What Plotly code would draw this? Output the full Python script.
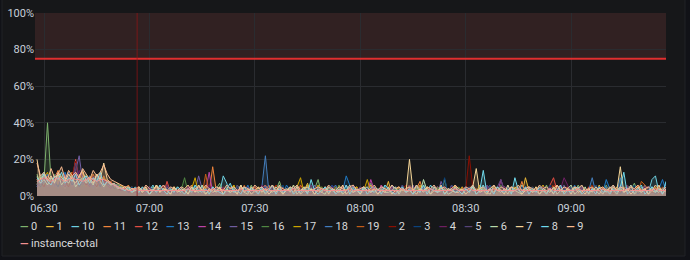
import plotly.graph_objects as go
import pandas as pd

# ---------------- data ----------------
START = "2020-01-01 06:28"
N_POINTS = 180
times = pd.date_range(START, periods=N_POINTS, freq="1min")

series_names = ["0", "1", "10", "11", "12", "13", "14", "15", "16", "17",
                "18", "19", "2", "3", "4", "5", "6", "7", "8", "9",
                "instance-total"]

series_colors = ["#7EB26D", "#EAB839", "#6ED0E0", "#EF843C", "#E24D42", "#1F78C1",
                 "#BA43A9", "#705DA0", "#508642", "#CCA300", "#447EBC", "#C15C17",
                 "#890F02", "#0A437C", "#6D1F62", "#584477", "#B7DBAB", "#F4D598",
                 "#70DBED", "#F9BA8F", "#F29191"]

s_0 = [12,6,9,40,8,5,11,7,4,9,13,6,8,5,10,7,12,4,6,9,
       7,5,6,4,5,3,4,2,3,2,4,1,3,5,2,6,3,1,4,2,
       5,3,2,4,1,6,3,2,5,3,1,4,7,2,3,1,5,2,4,3,
       2,6,1,3,4,2,5,1,3,8,2,4,1,3,5,2,3,6,1,4,
       9,1,5,2,4,3,1,6,2,3,5,1,4,2,3,7,1,3,5,2,
       4,2,1,5,3,2,6,1,4,3,2,5,1,3,4,2,9,1,3,5,
       2,4,3,1,5,2,3,6,1,4,2,3,5,1,2,4,3,1,6,2,
       5,1,3,4,2,6,1,3,2,5,4,1,3,2,6,3,1,4,2,5,
       3,2,6,1,4,3,2,5,1,3,7,2,4,1,3,5,2,3,1,4]
s_1 = [8,11,5,9,7,12,6,10,4,8,13,7,5,9,6,11,8,5,10,7,
       6,7,4,5,3,4,2,5,2,4,3,1,5,2,4,3,6,1,3,2,
       4,1,3,5,2,6,1,3,4,2,5,3,1,4,2,3,6,1,5,2,
       3,2,4,1,5,3,2,6,1,4,2,3,1,5,2,4,3,7,1,3,
       2,5,1,3,4,2,6,1,3,2,4,5,1,3,2,6,1,4,3,2,
       8,1,3,2,4,6,1,3,5,2,1,4,3,2,5,1,3,4,2,6,
       1,3,4,2,5,1,3,2,6,1,4,3,2,5,1,3,2,4,1,10,
       3,2,5,1,4,3,2,6,1,3,4,2,1,5,3,2,4,1,3,2,
       6,1,3,4,2,5,1,3,2,4,1,6,3,2,5,1,4,2,3,1]
s_10 = [6,10,13,7,9,5,11,8,6,12,7,4,9,11,5,8,10,6,9,4,
        8,6,5,7,4,3,5,3,5,2,4,1,3,6,2,4,1,5,3,2,
        1,4,3,2,6,1,3,5,2,4,1,3,2,11,7,1,3,2,4,1,
        5,2,3,1,4,6,2,3,1,5,2,4,3,1,6,2,3,5,1,4,
        2,3,1,5,2,4,3,1,6,2,5,1,3,4,2,1,5,3,2,4,
        1,6,3,2,4,1,5,2,3,1,4,2,6,3,1,5,2,4,3,1,
        3,2,5,1,4,2,3,6,1,2,4,3,1,5,2,3,4,1,6,2,
        4,1,3,2,5,3,1,4,2,6,1,3,5,2,4,1,3,2,5,3,
        2,4,1,3,6,2,5,1,4,3,2,1,5,3,2,9,11,2,3,5]
s_11 = [9,5,12,8,6,10,14,7,9,5,11,8,6,13,7,9,5,10,8,6,
        9,7,5,6,3,4,6,2,3,5,2,4,1,3,6,2,4,1,3,5,
        2,1,4,3,6,2,3,1,5,2,16,3,1,4,2,5,3,1,2,4,
        3,5,1,2,4,3,6,1,3,2,5,1,4,2,3,1,5,2,4,3,
        1,4,2,5,3,1,3,6,2,4,1,3,2,5,1,4,3,2,6,1,
        3,2,4,1,5,2,3,1,4,8,2,3,1,5,2,4,3,1,2,5,
        4,1,3,2,6,1,4,3,2,5,1,3,4,2,1,5,3,2,8,1,
        2,5,3,1,4,2,3,6,1,3,2,4,1,5,3,2,1,4,3,6,
        1,3,2,5,1,4,2,3,6,1,3,5,2,1,4,3,2,5,1,3]
s_12 = [7,9,5,11,8,6,10,7,12,5,9,20,8,6,11,7,9,5,12,8,
        6,8,5,4,3,5,2,4,2,4,1,3,5,2,4,3,1,8,2,3,
        4,2,1,5,3,2,4,1,3,6,2,4,1,3,5,2,1,4,3,2,
        5,1,3,2,4,6,1,3,2,5,1,4,3,2,1,6,3,2,4,1,
        3,2,5,1,4,2,3,1,6,2,4,3,1,5,2,3,4,1,2,5,
        1,4,2,3,5,1,2,4,3,1,6,2,3,5,1,4,2,3,1,4,
        2,3,1,5,2,4,1,3,6,2,1,4,3,5,2,1,3,4,2,3,
        5,2,4,1,3,2,6,10,3,4,2,5,1,3,2,4,1,5,3,2,
        1,3,5,2,4,1,3,2,5,1,4,2,3,6,1,2,4,3,1,5]
s_13 = [5,8,12,6,9,7,4,10,13,6,8,5,11,7,9,6,4,12,8,5,
        7,6,4,5,3,5,2,3,4,1,3,5,2,4,1,3,6,2,4,1,
        3,5,2,1,4,3,2,6,1,3,5,2,4,1,3,2,5,1,4,2,
        6,1,3,4,2,5,1,3,2,4,1,6,3,2,5,1,4,2,3,1,
        4,2,3,1,5,2,4,3,11,6,2,3,5,1,4,2,1,3,5,2,
        3,1,4,2,6,1,3,5,2,4,1,3,2,5,1,4,3,2,6,1,
        2,5,1,3,4,2,1,5,3,2,4,1,3,2,6,1,4,3,2,5,
        1,3,4,2,5,1,3,2,4,1,5,3,2,6,1,3,4,2,1,3,
        5,2,9,4,3,2,10,1,3,5,2,4,1,3,2,5,1,4,9,3]
s_14 = [9,6,11,5,8,12,7,10,6,9,5,13,8,6,10,7,5,11,9,6,
        6,5,7,4,3,5,2,4,2,3,1,5,2,4,3,1,6,2,3,4,
        2,4,1,3,5,2,6,1,3,13,2,1,5,3,2,4,1,3,2,5,
        1,3,5,2,4,1,3,2,6,1,4,3,2,5,1,3,4,2,1,5,
        3,2,4,1,6,2,3,5,1,4,2,3,1,5,2,9,3,1,6,2,
        4,1,3,5,2,1,4,3,2,6,1,3,2,4,5,1,3,2,4,1,
        2,5,3,1,4,2,3,1,5,2,4,1,9,3,2,5,1,4,3,2,
        3,1,4,2,5,3,1,2,4,6,1,3,5,2,1,4,3,2,5,1,
        4,2,3,1,5,2,4,3,1,6,2,3,1,4,5,2,3,1,4,2]
s_15 = [6,10,7,9,5,12,8,6,11,7,9,14,22,8,6,10,5,9,7,11,
        5,7,4,6,3,4,2,5,3,1,4,2,5,3,1,4,2,6,3,1,
        4,2,3,5,1,3,11,4,1,6,2,3,5,1,4,2,3,1,5,2,
        3,1,4,2,5,3,1,2,6,1,3,4,2,5,1,3,2,4,1,6,
        2,4,1,3,5,2,4,1,3,2,6,1,4,3,2,5,1,3,4,2,
        1,5,3,2,4,1,3,6,2,4,1,3,2,5,1,8,3,2,4,1,
        3,2,5,1,4,2,3,1,6,2,4,3,1,5,2,3,4,1,2,5,
        2,4,1,3,6,2,1,4,3,5,1,2,4,3,1,6,2,3,5,1,
        4,1,3,5,2,4,1,3,2,6,1,4,3,2,5,1,3,2,4,6]
s_16 = [8,11,6,9,7,12,5,10,8,6,11,7,9,5,12,8,6,10,7,9,
        5,6,4,7,3,4,5,2,2,4,1,3,5,2,4,1,3,6,2,4,
        1,3,10,2,4,1,6,3,2,4,1,5,2,3,1,4,2,6,3,1,
        4,2,3,1,5,2,4,3,1,6,2,3,5,1,4,2,3,1,5,2,
        3,5,1,4,2,3,6,1,3,2,4,1,5,3,2,4,1,3,2,6,
        2,1,4,3,5,2,1,3,4,2,6,1,3,2,5,1,4,3,2,1,
        5,3,2,4,1,3,5,2,1,4,3,2,6,1,3,2,4,5,1,3,
        1,4,3,2,5,1,3,4,2,1,5,3,2,4,1,6,3,2,1,4,
        3,2,5,1,4,3,2,1,6,3,2,4,1,5,2,3,1,4,3,2]
s_17 = [7,5,10,13,6,9,8,11,5,7,10,6,12,8,5,9,11,7,6,10,
        8,6,5,4,6,3,4,2,3,2,5,1,4,3,2,6,1,3,4,2,
        5,1,3,2,4,10,1,3,5,2,1,4,3,2,5,1,6,2,3,4,
        1,3,2,5,1,4,3,2,6,1,3,4,2,1,5,10,2,4,1,3,
        6,2,4,1,3,5,2,1,4,3,2,5,1,3,9,2,4,1,3,2,
        4,1,3,5,2,3,1,4,2,6,1,3,4,2,1,5,3,2,4,1,
        2,5,1,3,4,2,6,1,3,2,5,1,4,3,2,1,5,3,2,4,
        3,1,4,2,6,1,3,5,2,4,1,3,2,5,1,4,2,3,6,1,
        2,4,3,1,5,2,3,4,1,3,2,6,1,4,3,2,5,1,3,2]
s_18 = [5,9,7,12,6,8,11,5,9,13,7,6,10,8,5,11,7,9,6,8,
        7,5,6,4,5,3,2,4,2,4,3,1,5,2,6,3,1,4,2,3,
        3,1,4,2,5,3,1,6,2,4,1,3,5,2,3,1,4,2,6,1,
        2,4,3,1,5,22,2,3,1,6,2,4,3,1,5,2,3,4,1,2,
        5,1,3,2,4,6,1,3,2,5,1,4,3,2,1,5,3,2,4,1,
        3,2,5,1,4,2,3,1,6,2,4,3,1,5,2,3,1,4,2,5,
        1,4,2,3,5,1,3,2,4,6,1,3,2,5,1,4,3,2,1,5,
        4,2,1,5,3,2,4,1,3,2,6,1,4,3,2,5,1,3,10,2,
        2,3,5,1,4,2,3,1,5,3,2,4,1,6,3,2,4,1,3,7]
s_19 = [9,7,12,6,10,8,5,11,7,9,13,6,8,10,5,9,12,7,6,11,
        6,8,4,5,3,5,2,4,3,5,2,4,1,3,6,2,4,3,1,5,
        2,4,1,3,5,2,3,1,12,2,4,3,1,5,2,4,1,3,2,6,
        1,3,5,2,4,1,3,2,5,3,1,4,2,6,1,3,5,2,4,1,
        3,2,4,1,5,3,2,6,1,4,2,3,1,5,2,4,3,1,2,4,
        5,1,3,2,4,1,6,3,2,5,1,4,2,3,1,5,2,4,3,1,
        2,4,3,1,5,2,3,4,1,6,2,3,5,1,4,2,1,3,5,2,
        4,1,3,5,2,1,4,3,2,6,1,3,2,4,5,1,3,2,4,1,
        3,5,2,1,4,3,2,5,1,3,4,2,8,6,3,2,4,1,5,2]
s_2 = [6,8,5,10,7,9,12,6,8,5,11,19,7,9,6,10,8,5,9,7,
       7,5,6,4,3,5,2,3,2,3,1,5,2,4,3,1,6,2,3,1,
       4,2,3,1,5,2,4,3,1,6,2,3,5,1,4,2,3,1,5,2,
       1,3,4,2,5,1,3,2,6,1,4,3,2,5,1,3,4,2,1,5,
       3,2,5,1,4,2,3,6,1,3,2,4,1,5,3,2,4,1,3,2,
       5,1,3,2,4,6,1,3,2,4,1,5,3,2,1,4,3,2,5,1,
       2,4,3,22,5,1,3,2,4,1,6,3,2,5,1,4,2,3,1,5,
       3,1,4,2,5,3,1,6,2,3,4,1,5,2,3,1,4,2,6,1,
       4,2,3,5,1,4,2,3,1,5,2,6,3,1,4,2,3,5,1,3]
s_3 = [7,5,9,6,11,8,5,10,7,12,6,9,5,8,11,6,7,10,5,9,
       6,7,4,5,3,4,2,5,3,1,4,2,5,3,1,6,2,4,3,1,
       5,2,3,1,4,6,2,3,1,5,2,4,3,1,6,2,3,5,1,4,
       2,4,1,3,5,2,3,1,4,2,6,1,3,5,2,4,1,3,2,5,
       1,3,4,2,6,1,3,2,5,1,4,3,2,1,5,3,2,4,1,6,
       3,2,5,1,4,2,3,1,6,3,2,4,1,5,2,3,10,1,2,3,
       4,1,3,5,2,1,4,3,2,6,1,3,5,2,4,1,3,2,5,1,
       2,5,3,1,4,2,6,1,3,2,4,1,5,3,2,4,1,3,2,6,
       3,1,4,2,5,3,1,4,2,3,6,1,3,2,4,5,1,3,2,4]
s_4 = [5,7,10,8,6,9,13,7,5,8,10,6,14,9,7,5,11,8,6,9,
       6,4,7,5,3,4,2,3,2,4,3,1,5,2,4,3,1,6,2,3,
       1,4,2,5,3,1,4,2,3,6,1,3,2,5,1,4,3,2,1,5,
       3,2,4,1,6,3,2,5,1,4,2,3,1,5,2,4,3,1,6,2,
       4,1,3,2,5,1,4,3,2,6,1,3,5,2,4,1,3,2,4,1,
       2,5,1,3,4,2,6,1,3,2,5,1,4,3,2,1,5,3,2,4,
       3,1,4,2,5,3,1,2,6,1,3,4,2,5,1,3,2,4,1,3,
       5,2,3,1,4,2,5,3,1,4,10,6,1,3,2,5,1,4,3,2,
       1,4,2,3,5,1,3,2,6,1,4,3,2,5,1,3,4,2,1,5]
s_5 = [8,6,9,7,11,5,10,8,6,12,7,18,9,6,10,7,5,11,8,6,
       8,5,6,4,5,3,4,2,3,1,5,2,4,3,1,6,2,3,5,1,
       2,4,3,1,5,2,6,1,3,4,2,5,1,3,2,4,1,6,3,2,
       5,1,3,2,4,1,5,3,2,6,1,4,3,2,5,1,3,2,4,1,
       3,2,4,5,1,3,2,6,1,4,3,2,1,5,3,2,4,1,3,2,
       1,4,2,3,6,1,3,5,2,4,1,3,2,5,1,4,3,2,6,1,
       4,2,5,1,3,2,4,1,6,3,2,5,9,3,4,2,1,5,3,2,
       2,3,1,4,5,2,3,1,4,2,6,1,3,5,2,4,1,3,2,4,
       5,1,3,2,4,1,6,3,2,5,1,4,2,3,1,5,3,2,4,1]
s_6 = [11,7,9,6,10,8,12,6,9,7,11,5,8,10,7,9,6,12,8,5,
       8,6,7,4,5,3,4,2,3,5,2,4,1,3,6,2,4,3,1,5,
       3,2,4,1,5,3,2,6,1,3,4,2,5,1,3,2,4,1,6,2,
       1,5,3,2,4,1,3,2,5,3,1,4,2,6,1,3,5,2,4,1,
       4,2,1,5,3,2,4,1,3,6,2,3,1,4,5,2,3,1,4,2,
       2,3,5,1,4,2,3,1,6,2,9,3,1,5,2,3,4,1,2,5,
       3,1,4,2,5,1,3,4,2,1,6,3,2,4,1,5,3,2,1,4,
       5,2,3,1,4,3,2,5,1,3,2,4,6,1,3,2,5,1,4,3,
       1,4,2,5,3,1,4,2,3,6,1,3,2,4,1,5,3,2,4,2]
s_7 = [20,9,12,8,11,7,13,10,8,12,9,7,11,14,8,10,7,12,9,18,
       9,7,6,5,4,5,3,4,3,4,2,5,1,3,6,2,4,3,1,5,
       2,4,3,1,5,2,6,3,1,4,2,3,5,1,4,2,3,1,6,2,
       4,1,3,5,2,4,1,3,2,6,1,3,4,2,5,1,3,2,4,1,
       3,2,5,1,4,3,2,6,1,3,2,4,1,5,3,2,4,1,3,2,
       5,1,3,2,4,2,20,3,1,4,2,5,1,3,2,6,1,4,3,2,
       2,4,1,3,5,15,2,3,1,4,2,5,3,1,6,2,3,4,1,3,
       4,2,5,1,3,2,4,1,6,3,2,4,1,5,2,3,1,4,2,5,
       3,1,4,2,5,3,16,2,4,1,3,5,2,4,1,3,2,6,1,4]
s_8 = [10,7,12,8,6,11,9,13,7,10,8,12,6,9,11,7,10,8,13,6,
       8,7,6,5,4,3,5,2,4,2,5,3,1,4,2,6,3,1,4,2,
       5,3,1,4,2,6,3,2,4,1,5,3,2,1,4,7,2,3,1,5,
       2,4,3,1,5,2,3,6,1,4,2,3,5,1,3,2,4,1,9,3,
       1,3,5,2,4,1,3,2,6,1,4,3,2,5,1,3,2,4,1,6,
       4,2,1,3,5,2,4,1,3,2,6,1,4,3,2,5,1,3,4,2,
       3,1,4,2,6,1,3,14,2,4,1,5,3,2,4,1,10,3,2,5,
       1,4,2,5,3,1,4,2,3,6,1,3,2,4,5,1,3,2,4,1,
       5,2,3,1,4,2,5,13,1,3,2,4,6,1,3,5,2,4,1,8]
s_9 = [18,11,13,9,15,10,12,16,9,14,11,13,10,15,12,9,14,11,13,17,
       12,9,8,7,6,5,5,4,4,5,3,6,4,3,5,4,6,3,5,4,
       3,5,4,6,3,4,5,3,6,4,3,5,4,3,6,4,5,3,4,5,
       4,3,6,4,5,3,4,6,3,5,4,3,5,4,6,3,4,5,3,4,
       5,4,3,6,4,3,5,4,3,5,6,3,4,5,3,4,6,3,5,4,
       3,6,4,5,3,4,5,3,6,4,3,5,4,6,3,4,5,3,4,6,
       4,3,5,4,6,3,4,5,3,4,6,3,5,4,3,5,4,6,3,4,
       5,4,3,6,4,5,3,4,6,3,5,4,3,5,4,6,3,4,5,3,
       4,5,3,4,6,3,5,4,3,5,4,6,3,4,5,3,6,4,3,5]
s_total = [8,9,10,9,8,9,10,9,8,9,10,9,9,8,9,10,9,8,9,9,
           8,7,6,5,4,4,3,3,4,3,3,3,3,3,3,3,3,3,3,3,
           3,3,3,4,3,3,3,3,3,3,4,3,3,3,3,3,3,3,4,3,
           3,3,3,3,3,4,3,3,3,3,3,3,3,4,3,3,3,3,3,3,
           3,4,3,3,3,3,3,3,3,4,3,3,3,3,3,3,4,3,3,3,
           3,3,3,3,4,3,3,3,3,3,3,3,4,3,3,3,3,3,3,4,
           3,3,3,4,3,3,3,3,3,3,4,3,3,3,3,3,3,4,3,3,
           3,3,3,3,3,3,4,3,3,3,3,3,3,3,4,3,3,3,3,3,
           3,4,3,3,3,3,3,3,4,3,3,3,3,3,3,3,4,3,3,3]

series_values = [s_0, s_1, s_10, s_11, s_12, s_13, s_14, s_15, s_16, s_17,
                 s_18, s_19, s_2, s_3, s_4, s_5, s_6, s_7, s_8, s_9, s_total]

THRESHOLD = 75
Y_MAX = 100
ANNOTATION_TIME = "2020-01-01 06:56:30"
X_RANGE = ["2020-01-01 06:27:26", "2020-01-01 09:27:00"]
TICK0 = "2020-01-01 06:30"

# ---------------- style ----------------
OUTER_BG = "#111217"
PANEL_BG = "#161719"
GRID = "#2a2c30"
TEXT = "#c7d0d9"
FONT = "Roboto"


def rgba(hexc, a):
    h = hexc.lstrip("#")
    return f"rgba({int(h[0:2],16)},{int(h[2:4],16)},{int(h[4:6],16)},{a})"


fig = go.Figure()
for name, color, vals in zip(series_names, series_colors, series_values):
    fig.add_trace(go.Scatter(
        x=times[:len(vals)], y=vals, name=name, mode="lines",
        line=dict(color=color, width=1),
        fill="tozeroy", fillcolor=rgba(color, 0.16),
        showlegend=False,
    ))

shapes = [
    dict(type="rect", xref="paper", yref="paper", x0=-0.0523, x1=1.0301,
         y0=-0.328, y1=1.1, fillcolor=PANEL_BG, line=dict(color="#222428", width=1),
         layer="below"),
    dict(type="rect", xref="paper", yref="y", x0=0, x1=1, y0=THRESHOLD, y1=Y_MAX,
         fillcolor="rgba(234,100,100,0.13)", line=dict(width=0), layer="below"),
    dict(type="line", xref="paper", yref="y", x0=0, x1=1, y0=THRESHOLD, y1=THRESHOLD,
         line=dict(color="#e02f2f", width=2), layer="above"),
    dict(type="line", xref="x", yref="paper", x0=ANNOTATION_TIME, x1=ANNOTATION_TIME,
         y0=0, y1=1, line=dict(color="rgba(150,20,20,0.7)", width=1), layer="above"),
]


def legend_html(names, colors):
    parts = []
    for n, c in zip(names, colors):
        parts.append(f'<span style="color:{c};font-weight:bold">—</span> {n}')
    return "&nbsp;&nbsp; ".join(parts)


annotations = [
    dict(xref="paper", yref="paper", x=-0.0269, y=-0.164, xanchor="left", yanchor="middle",
         text=legend_html(series_names[:20], series_colors[:20]), showarrow=False,
         font=dict(family=FONT, size=11, color="#d8d9da")),
    dict(xref="paper", yref="paper", x=-0.0269, y=-0.257, xanchor="left", yanchor="middle",
         text=legend_html(series_names[20:], series_colors[20:]), showarrow=False,
         font=dict(family=FONT, size=11, color="#d8d9da")),
]

fig.update_layout(
    width=690, height=260,
    margin=dict(l=35, r=24, t=13, b=64),
    paper_bgcolor=OUTER_BG, plot_bgcolor="rgba(0,0,0,0)",
    font=dict(family=FONT, size=11, color=TEXT),
    shapes=shapes, annotations=annotations,
    showlegend=False,
)
fig.update_xaxes(
    type="date", range=X_RANGE, tick0=TICK0, dtick=30 * 60 * 1000,
    tickformat="%H:%M", showgrid=True, gridcolor=GRID, gridwidth=1,
    zeroline=False, showline=False, ticks="", ticklabelstandoff=4,
    automargin=False, tickfont=dict(size=11, color=TEXT),
)
fig.update_yaxes(
    range=[0, Y_MAX], dtick=20, ticksuffix="%", showgrid=True, gridcolor=GRID,
    zeroline=False, showline=False, ticks="", automargin=False,
    tickfont=dict(size=11, color=TEXT),
)

fig.write_html("out.html")
